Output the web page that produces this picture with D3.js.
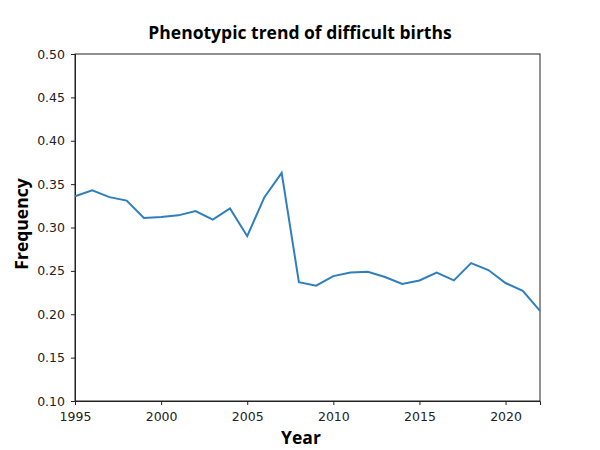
<!DOCTYPE html>
<html>
<head>
<meta charset="utf-8">
<script src="https://cdn.jsdelivr.net/npm/d3@7"></script>
<style>
  body { margin: 0; background: #fff; }
  .tick text { font-family: "DejaVu Sans", sans-serif; font-size: 12.5px; fill: #222; }
  .tick line, .domain { stroke: #222; }
</style>
</head>
<body>
<div id="chart"></div>
<script>
var years = d3.range(1995, 2023);
var freq = [0.336, 0.343, 0.335, 0.331, 0.311, 0.312, 0.314, 0.319, 0.309, 0.322,
            0.290, 0.335, 0.363, 0.237, 0.233, 0.244, 0.248, 0.249, 0.243, 0.235,
            0.239, 0.248, 0.239, 0.259, 0.251, 0.236, 0.227, 0.204];
var xTicks = [1995, 2000, 2005, 2010, 2015, 2020];
var yTicks = [0.10, 0.15, 0.20, 0.25, 0.30, 0.35, 0.40, 0.45, 0.50];

var margin = {top: 54, right: 60, bottom: 49, left: 75},
    width = 600 - margin.left - margin.right,
    height = 450 - margin.top - margin.bottom;

var svg = d3.select("#chart")
  .append("svg")
    .attr("width", 600)
    .attr("height", 450)
  .append("g")
    .attr("transform", "translate(" + margin.left + "," + margin.top + ")");

var x = d3.scaleLinear().domain([1995, 2022]).range([0, width]);
var y = d3.scaleLinear().domain([0.10, 0.50]).range([height, 0]);

// frame
svg.append("rect")
  .attr("width", width)
  .attr("height", height)
  .attr("fill", "none")
  .attr("stroke", "#222")
  .attr("stroke-width", 1);

svg.append("g")
  .attr("transform", "translate(0," + height + ")")
  .call(d3.axisBottom(x).tickValues(xTicks).tickFormat(d3.format("d")).tickSize(4).tickPadding(7));

svg.append("g")
  .call(d3.axisLeft(y).tickValues(yTicks).tickFormat(d3.format(".2f")).tickSize(4).tickPadding(6));

var line = d3.line()
  .x(function(d, i) { return x(years[i]); })
  .y(function(d) { return y(d); });

svg.append("path")
  .datum(freq)
  .attr("fill", "none")
  .attr("stroke", "#2f7fbd")
  .attr("stroke-width", 2)
  .attr("d", line);

// titles sit centred on the figure, not the plot
svg.append("text")
  .attr("x", 300 - margin.left)
  .attr("y", -15)
  .attr("text-anchor", "middle")
  .attr("font-family", "Open Sans, sans-serif")
  .attr("font-weight", "bold")
  .attr("font-size", "17.5px")
  .text("Phenotypic trend of difficult births");

svg.append("text")
  .attr("x", 301 - margin.left)
  .attr("y", height + 43)
  .attr("text-anchor", "middle")
  .attr("font-family", "Open Sans, sans-serif")
  .attr("font-weight", "bold")
  .attr("font-size", "17.5px")
  .text("Year");

svg.append("text")
  .attr("transform", "rotate(-90)")
  .attr("x", -(224 - margin.top))
  .attr("y", -47)
  .attr("text-anchor", "middle")
  .attr("font-family", "Open Sans, sans-serif")
  .attr("font-weight", "bold")
  .attr("font-size", "17.5px")
  .text("Frequency");
</script>
</body>
</html>
